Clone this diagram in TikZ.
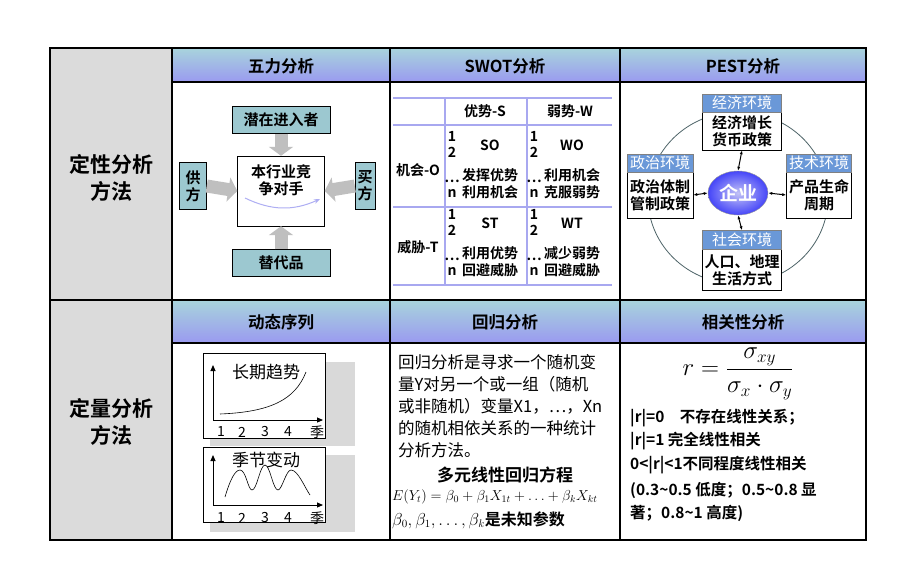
\documentclass[tikz,border=0pt]{standalone}
\usepackage{fontspec}
\setmainfont{Liberation Sans}
\newfontfamily\cjk{Noto Sans CJK SC}
\newfontfamily\cjkb{Noto Sans CJK SC Bold}
\usetikzlibrary{arrows.meta,shapes.geometric,shadows}
\definecolor{hdtop}{HTML}{A8D4DC}
\definecolor{hdbot}{HTML}{9A9AF0}
\definecolor{teal}{HTML}{9CC8D0}
\definecolor{pestb}{HTML}{6A98D8}
\definecolor{swl}{HTML}{A8A8F0}
\begin{document}
\begin{tikzpicture}[x=1pt,y=-1pt,
  hdr/.style={draw=black,line width=1.2pt,top color=hdtop,bottom color=hdbot},
  ht/.style={font=\cjkb\fontsize{16.5}{18}\selectfont},
  lt/.style={font=\cjkb\fontsize{21}{27}\selectfont,align=center},
  tbox/.style={draw=black,fill=teal,font=\cjkb\fontsize{15}{17}\selectfont,align=center},
  garr/.style={line width=13pt,draw=black!25,-{Triangle[width=24pt,length=9pt]}},
  st/.style={font=\cjkb\fontsize{14}{16}\selectfont,inner sep=0pt},
  pt/.style={font=\cjkb\fontsize{15}{17}\selectfont,align=center,inner sep=1pt},
  ph/.style={draw=black!50,fill=pestb,text=white,font=\cjk\fontsize{15}{17}\selectfont,inner sep=0pt},
  pb/.style={draw=black,fill=white},
  dar/.style={{Latex[length=4pt]}-{Latex[length=4pt]},line width=1pt},
  rt/.style={font=\cjk\fontsize{16.5}{18}\selectfont,anchor=west,inner sep=0pt},
  ct/.style={font=\cjkb\fontsize{15.5}{17}\selectfont,anchor=west,inner sep=0pt}]
\useasboundingbox (0,0) rectangle (921,560);
\fill[white] (0,0) rectangle (921,560);
% table
\fill[black!14] (50,48) rectangle (172,540);
\draw[hdr] (172,48) rectangle (390,82);
\draw[hdr] (390,48) rectangle (620,82);
\draw[hdr] (620,48) rectangle (866,82);
\draw[hdr] (172,300) rectangle (390,343);
\draw[hdr] (390,300) rectangle (620,343);
\draw[hdr] (620,300) rectangle (866,343);
\draw[line width=1.2pt] (50,48) rectangle (866,540);
\draw[line width=1.2pt] (50,300) -- (866,300) (172,48) -- (172,540) (390,48) -- (390,540) (620,48) -- (620,540);
\node[ht] (h1) at (281,66) {五力分析};
\node[ht] (h2) at (505,66) {SWOT分析};
\node[ht] (h3) at (743,66) {PEST分析};
\node[ht] (h4) at (281,322) {动态序列};
\node[ht] (h5) at (505,322) {回归分析};
\node[ht] (h6) at (743,322) {相关性分析};
\node[lt] (l1) at (111,178) {定性分析\\方法};
\node[lt] (l2) at (111,422) {定量分析\\方法};
% five forces
\node[tbox,minimum width=98pt,minimum height=27pt] (ent) at (281,120) {潜在进入者};
\node[tbox,minimum width=98pt,minimum height=27pt] (sub) at (281,263) {替代品};
\node[tbox,minimum width=27pt,minimum height=47pt,inner sep=1pt] (sup) at (193,186) {供\\方};
\node[tbox,minimum width=20pt,minimum height=47pt,inner sep=1pt] (buy) at (365,186) {买\\方};
\node[draw=black,fill=white,minimum width=87pt,minimum height=70pt] (cmp) at (281,191) {};
\draw[garr] (ent.south) -- (cmp.north);
\draw[garr] (sub.north) -- (cmp.south);
\draw[garr] (sup.east) -- (cmp.west);
\draw[garr] (buy.west) -- (cmp.east);
\node[font=\cjkb\fontsize{15}{17}\selectfont,align=center] (cmpt) at (281,180) {本行业竞\\争对手};
\draw[hdbot!80,line width=1pt,-{Stealth[length=6pt]}] (245,198) to[bend right=25] (320,199);
% SWOT
\draw[swl,line width=1.5pt] (393,98) -- (612,98) (393,125) -- (612,125) (393,207) -- (612,207) (393,285) -- (612,285) (445,98) -- (445,285) (527,98) -- (527,285);
\node[st] (s1) at (485,111) {优势-S};
\node[st] (s2) at (570,111) {弱势-W};
\node[st] (s3) at (418,170) {机会-O};
\node[st] (s4) at (418,247) {威胁-T};
\foreach \dx/\dy/\n/\a/\b [count=\i] in {0/0/SO/发挥优势/利用机会,82/0/WO/利用机会/克服弱势,0/78/ST/利用优势/回避威胁,82/78/WT/减少弱势/回避威胁}{
  \node[st] (n1\i) at (452+\dx,136+\dy) {1};
  \node[st] (n2\i) at (452+\dx,152+\dy) {2};
  \node[st] (n3\i) at (452+\dx,181+\dy) {…};
  \node[st] (n4\i) at (452+\dx,193+\dy) {n};
  \node[st] (nn\i) at (490+\dx,145+\dy) {\n};
  \node[st] (na\i) at (490+\dx,175+\dy) {\a};
  \node[st] (nb\i) at (490+\dx,192+\dy) {\b};
}
% PEST
\draw[black!50!teal,line width=0.8pt] (738,198) ellipse [x radius=90pt,y radius=86pt];
\node[pb,minimum width=79pt,minimum height=38pt] (eb) at (742,131) {};
\node[ph,minimum width=79pt,minimum height=18pt] (eh) at (742,103) {经济环境};
\node[pt] (et) at (742,131) {经济增长\\货币政策};
\node[pb,minimum width=66pt,minimum height=46pt] (zb) at (660,195) {};
\node[ph,minimum width=66pt,minimum height=18pt] (zh) at (660,163) {政治环境};
\node[pt] (zt) at (660,195) {政治体制\\管制政策};
\node[pb,minimum width=65pt,minimum height=46pt] (jb) at (819,195) {};
\node[ph,minimum width=65pt,minimum height=18pt] (jh) at (819,163) {技术环境};
\node[pt] (jt) at (819,195) {产品生命\\周期};
\node[pb,minimum width=79pt,minimum height=41pt] (sb) at (742,270) {};
\node[ph,minimum width=79pt,minimum height=19pt] (sh) at (742,240) {社会环境};
\node[pt] (stt) at (742,270) {人口、地理\\生活方式};
\node[ellipse,draw=black!40,inner color=hdbot!60,outer color=blue!55!hdbot,minimum width=60pt,minimum height=44pt,inner sep=0pt,text=white,font=\cjkb\fontsize{19}{21}\selectfont] (qy) at (738,193) {企业};
\draw[dar] (eb.south) -- (qy.north);
\draw[dar] (sh.north) -- (qy.south);
\draw[dar] (zb.east) -- (qy.west);
\draw[dar] (jb.west) -- (qy.east);
% dynamic series
\fill[black!15] (210,362) rectangle (355,446);
\node[draw=black,fill=white,minimum width=122pt,minimum height=85pt] (d1) at (264,395.5) {};
\fill[black!15] (210,455) rectangle (355,532);
\node[draw=black,fill=white,minimum width=122pt,minimum height=75pt] (d2) at (264,484.5) {};
\coordinate (o1) at (213,420); \coordinate (y1) at (213,365); \coordinate (x1) at (323,420);
\draw[-{Triangle[length=6pt,width=5pt]},line width=0.9pt] (o1) -- (y1);
\draw[-{Triangle[length=6pt,width=5pt]},line width=0.9pt] (o1) -- (x1);
\draw[line width=0.6pt] (220,414) .. controls (270,412) and (295,400) .. (306,372);
\node[font=\cjk\fontsize{17}{19}\selectfont] (t1) at (266,372) {长期趋势};
\coordinate (o2) at (213,505); \coordinate (y2) at (213,455); \coordinate (x2) at (323,505);
\draw[-{Triangle[length=6pt,width=5pt]},line width=0.9pt] (o2) -- (y2);
\draw[-{Triangle[length=6pt,width=5pt]},line width=0.9pt] (o2) -- (x2);
\draw[line width=0.6pt] (225,497) .. controls (230,480) and (235,470) .. (240,470) .. controls (246,470) and (248,490) .. (252,490) .. controls (257,490) and (260,465) .. (265,465) .. controls (270,465) and (273,490) .. (278,490) .. controls (282,490) and (286,470) .. (291,470) .. controls (298,470) and (305,488) .. (310,495);
\node[font=\cjk\fontsize{17}{19}\selectfont] (t2) at (266,460) {季节变动};
\foreach \xx/\lab [count=\i] in {221/1,242/2,265/3,288/4,317/季}{
  \node[font=\cjk\fontsize{14}{16}\selectfont,inner sep=0pt] (la\i) at (\xx,432) {\lab};
  \node[font=\cjk\fontsize{14}{16}\selectfont,inner sep=0pt] (lb\i) at (\xx,518) {\lab};
}
% regression
\node[rt] (r1) at (398,362) {回归分析是寻求一个随机变};
\node[rt] (r2) at (398,384) {量Y对另一个或一组（随机};
\node[rt] (r3) at (398,406) {或非随机）变量X1，…，Xn};
\node[rt] (r4) at (398,428) {的随机相依关系的一种统计};
\node[rt] (r5) at (398,450) {分析方法。};
\node[font=\cjkb\fontsize{17}{19}\selectfont] (r6) at (505,475) {多元线性回归方程};
\node[anchor=west,inner sep=0pt,font=\fontsize{14.5}{16}\selectfont] (r7) at (392,497) {$E(Y_t)=\beta_0+\beta_1X_{1t}+\ldots+\beta_kX_{kt}$};
\node[anchor=west,inner sep=0pt,font=\fontsize{16}{18}\selectfont] (r8) at (392,520) {$\beta_0,\beta_1,\ldots,\beta_k${\cjkb 是未知参数}};
% correlation
\node[font=\fontsize{23}{26}\selectfont] (c0) at (738,374) {$\displaystyle r=\frac{\sigma_{xy}}{\sigma_x\cdot\sigma_y}$};
\node[ct] (c1) at (630,418) {|r|=0\quad 不存在线性关系；};
\node[ct] (c2) at (630,441) {|r|=1 完全线性相关};
\node[ct] (c3) at (630,465) {0<|r|<1不同程度线性相关};
\node[ct] (c4) at (630,490) {(0.3\~{}0.5 低度；0.5\~{}0.8 显};
\node[ct] (c5) at (630,513) {著；0.8\~{}1 高度)};
\end{tikzpicture}
\end{document}
